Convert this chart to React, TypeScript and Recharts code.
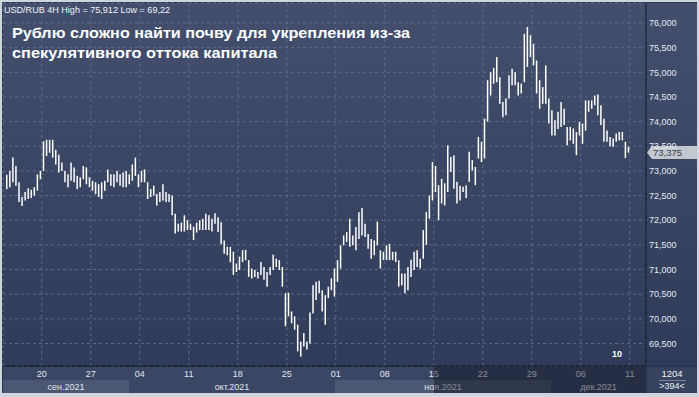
import { ComposedChart, Bar, XAxis, YAxis, CartesianGrid, ReferenceLine } from 'recharts';

// 4H bars, low and high of each bar
const lows = [
  72.63, 72.67, 72.77, 72.7, 72.37, 72.29, 72.4, 72.43, 72.45, 72.5, 72.6, 72.83, 73.0, 73.3, 73.37, 73.27,
  73.13, 72.97, 73.0, 72.77, 72.67, 72.8, 72.77, 72.63, 72.67, 72.83, 72.73, 72.67, 72.6, 72.53, 72.47, 72.43,
  72.6, 72.77, 72.7, 72.67, 72.77, 72.7, 72.67, 72.67, 72.73, 72.8, 72.9, 72.67, 72.77, 72.77, 72.43, 72.47,
  72.5, 72.3, 72.37, 72.4, 72.37, 72.37, 72.1, 71.73, 71.77, 71.77, 71.77, 71.8, 71.8, 71.6, 71.75, 71.8,
  71.8, 71.8, 71.8, 71.77, 71.93, 71.76, 71.52, 71.32, 71.29, 71.15, 70.89, 70.95, 70.99, 71.15, 71.19, 70.85,
  70.82, 70.85, 70.82, 70.89, 70.79, 70.65, 70.89, 70.99, 71.05, 70.99, 70.65, 69.85, 70.05, 69.91, 69.78, 69.34,
  69.23, 69.44, 69.38, 69.5, 70.11, 70.38, 70.52, 70.15, 69.88, 70.42, 70.58, 70.45, 70.75, 71.02, 71.49, 71.56,
  71.46, 71.49, 71.39, 71.62, 71.69, 71.66, 71.42, 71.22, 71.29, 71.49, 71.02, 71.19, 71.19, 71.19, 71.19, 71.15,
  70.65, 70.68, 70.52, 70.58, 70.85, 70.99, 71.05, 71.02, 71.22, 71.5, 72.03, 72.4, 72.57, 72.0, 72.34, 72.3,
  72.57, 72.98, 72.64, 72.34, 72.4, 72.57, 72.45, 72.78, 73.01, 72.71, 73.25, 73.18, 73.25, 74.0, 74.53, 74.77,
  74.8, 74.36, 74.09, 74.13, 74.47, 74.74, 74.74, 74.53, 74.57, 74.8, 75.11, 75.31, 75.14, 74.57, 74.26, 74.36,
  74.36, 73.96, 73.72, 73.72, 73.85, 73.89, 73.93, 73.52, 73.62, 73.55, 73.32, 73.72, 73.55, 73.82, 74.2, 74.26,
  74.33, 74.13, 73.93, 73.59, 73.59, 73.5, 73.49, 73.59, 73.62, 73.62, 73.26, 73.37,
];

const highs = [
  72.92, 73.0, 73.27, 73.1, 72.77, 72.47, 72.57, 72.65, 72.62, 72.67, 72.93, 73.0, 73.6, 73.63, 73.63, 73.63,
  73.43, 73.33, 73.17, 73.0, 72.93, 73.17, 73.07, 72.9, 72.87, 73.1, 73.07, 72.87, 72.8, 72.77, 72.73, 72.77,
  72.8, 73.03, 72.93, 72.93, 73.0, 72.93, 72.97, 73.0, 72.93, 73.13, 73.27, 72.93, 73.0, 73.03, 72.77, 72.63,
  72.7, 72.53, 72.57, 72.73, 72.57, 72.53, 72.5, 72.13, 71.93, 71.95, 72.1, 72.0, 71.93, 71.87, 71.95, 72.0,
  72.03, 72.13, 72.1, 72.03, 72.14, 72.06, 71.96, 71.59, 71.46, 71.46, 71.36, 71.12, 71.26, 71.39, 71.4, 71.19,
  71.02, 70.99, 70.95, 71.15, 71.05, 70.95, 71.05, 71.3, 71.22, 71.19, 71.05, 70.52, 70.53, 70.15, 70.05, 69.88,
  69.54, 69.71, 69.54, 70.13, 70.68, 70.75, 70.77, 70.58, 70.48, 70.65, 70.82, 71.02, 71.19, 71.49, 71.69, 71.76,
  72.03, 71.69, 71.86, 72.16, 72.25, 71.93, 71.72, 71.62, 71.59, 71.97, 71.39, 71.36, 71.49, 71.52, 71.36, 71.36,
  71.19, 70.92, 70.92, 71.05, 71.2, 71.36, 71.39, 71.22, 71.8, 72.17, 72.5, 73.18, 73.1, 72.71, 72.84, 72.75,
  73.52, 73.28, 73.32, 72.78, 72.7, 72.68, 72.71, 73.39, 73.22, 73.08, 73.69, 73.59, 74.06, 74.84, 75.0, 75.09,
  75.31, 74.9, 74.4, 74.47, 74.94, 75.07, 75.0, 74.8, 74.77, 75.78, 75.92, 75.75, 75.58, 75.24, 74.84, 74.7,
  75.14, 74.47, 74.23, 74.03, 74.2, 74.4, 74.26, 73.89, 73.89, 73.86, 73.79, 73.99, 73.96, 74.43, 74.43, 74.43,
  74.53, 74.55, 74.33, 74.06, 73.82, 73.69, 73.66, 73.76, 73.79, 73.79, 73.59, 73.49,
];

// week starts (Mondays), in bar index units, and their labels
const weekTicks = [11.5, 27.5, 43.5, 59.5, 75.5, 91.5, 107.5, 123.5, 139.5, 155.5, 171.5, 187.5, 203.5];
const dayLabels = ['20', '27', '04', '11', '18', '25', '01', '08', '15', '22', '29', '06', '11'];
const monthLabels = ['сен.2021', 'окт.2021', 'ноя.2021', 'дек.2021'];
const priceTicks = [69.5, 70, 70.5, 71, 71.5, 72, 72.5, 73, 73.5, 74, 74.5, 75, 75.5, 76];
const lastPrice = 73.375;

const data = lows.map((low, i) => ({ i, range: [low, highs[i]] }));

const FONT = '"Liberation Sans", Arial, sans-serif';
const fmtPrice = (v: number) => v.toFixed(3).replace('.', ',');

// month bands under the day row (x from, x to), pixels
const bands = [
  [3, 129, '#4b5773'],
  [129, 335, '#3a4663'],
  [335, 551, '#4b5773'],
  [551, 646, '#3a4663'],
];

function PriceTag(props: any) {
  const { viewBox } = props;
  const x = viewBox.x + viewBox.width;
  const y = viewBox.y;
  return (
    <g>
      <polygon
        points={`${x + 1},${y} ${x + 6},${y - 6.5} ${x + 51},${y - 6.5} ${x + 51},${y + 6.5} ${x + 6},${y + 6.5}`}
        fill="#c3c7cf"
      />
      <text x={x + 7} y={y + 3.5} fontSize={9.5} fill="#3a3f4a" fontFamily={FONT}>
        {fmtPrice(lastPrice)}
      </text>
    </g>
  );
}

export default function App() {
  return (
    <div style={{ position: 'absolute', left: 0, top: 0, width: 699, height: 397, overflow: 'hidden', background: '#cfd5de' }}>
      {/* backgrounds */}
      <svg width={699} height={397} style={{ position: 'absolute', left: 0, top: 0 }}>
        <defs>
          <linearGradient id="panel" x1="0" y1="0" x2="0" y2="1">
            <stop offset="0%" stopColor="#434f6d" />
            <stop offset="100%" stopColor="#2f3b59" />
          </linearGradient>
        </defs>
        <rect x={2} y={2} width={695} height={391} fill="#2a3450" />
        <rect x={3} y={3} width={694} height={363} fill="url(#panel)" />
        <rect x={3} y={367} width={643} height={26} fill="#3a4663" />
        {bands.map(([a, b, c], k) => (
          <rect key={k} x={a as number} y={380} width={(b as number) - (a as number)} height={13} fill={c as string} />
        ))}
        {monthLabels.map((m, k) => (
          <text
            key={m}
            x={((bands[k][0] as number) + (bands[k][1] as number)) / 2}
            y={389.5}
            textAnchor="middle"
            fontSize={9}
            fill="#e2e6ee"
            fontFamily={FONT}
          >
            {m}
          </text>
        ))}
        <rect x={647} y={367} width={50} height={26} fill="#37425e" />
      </svg>

      <div style={{ position: 'absolute', left: 0, top: 0 }}>
        <ComposedChart width={699} height={397} data={data} margin={{ top: 3, left: 3, right: 2, bottom: 5 }}>
          <CartesianGrid stroke="#5d6b8b" strokeDasharray="3 3" />
          <XAxis
            type="number"
            dataKey="i"
            domain={[-1.153, 208.8]}
            ticks={weekTicks}
            tickFormatter={(_v: number, idx: number) => dayLabels[idx]}
            interval={0}
            height={26}
            tickLine={false}
            tickSize={3}
            tickMargin={2}
            axisLine={{ stroke: '#0e121b' }}
            tick={{ fill: '#e2e6ee', fontSize: 9, fontFamily: FONT }}
            allowDataOverflow
          />
          <YAxis
            orientation="right"
            width={51}
            domain={[69.043, 76.406]}
            ticks={priceTicks}
            tickFormatter={fmtPrice}
            interval={0}
            tickLine={false}
            tickSize={1}
            tickMargin={2}
            axisLine={{ stroke: '#0e121b' }}
            tick={{ fill: '#e6e9ef', fontSize: 9, fontFamily: FONT }}
            allowDataOverflow
          />
          <Bar dataKey="range" fill="#ffffff" barSize={1.5} isAnimationActive={false} />
          <ReferenceLine y={lastPrice} stroke="none" ifOverflow="visible" label={PriceTag} />
        </ComposedChart>
      </div>

      {/* overlays */}
      <svg width={699} height={397} style={{ position: 'absolute', left: 0, top: 0, pointerEvents: 'none' }}>
        <rect x={434} y={367} width={212} height={26} fill="rgba(14,18,32,0.45)" />
        <text x={4} y={13} fontSize={9} fill="#f2f4f8" fontFamily={FONT} textLength={166} lengthAdjust="spacingAndGlyphs">
          USD/RUB 4H High = 75,912 Low = 69,22
        </text>
        <text x={12} y={38} fontSize={14} fontWeight="bold" fill="#ffffff" fontFamily={FONT} textLength={398} lengthAdjust="spacingAndGlyphs">
          Рублю сложно найти почву для укрепления из-за
        </text>
        <text x={12} y={57.5} fontSize={14} fontWeight="bold" fill="#ffffff" fontFamily={FONT} textLength={265} lengthAdjust="spacingAndGlyphs">
          спекулятивного оттока капитала
        </text>
        <text x={617} y={357} textAnchor="middle" fontSize={9} fontWeight="bold" fill="#ffffff" fontFamily={FONT}>
          10
        </text>
        <text x={672} y={377} textAnchor="middle" fontSize={9.5} fill="#eef0f4" fontFamily={FONT}>
          1204
        </text>
        <line x1={659} x2={686} y1={380.5} y2={380.5} stroke="#7a869e" />
        <text x={672} y={389} textAnchor="middle" fontSize={9} fill="#eef0f4" fontFamily={FONT}>
          &gt;394&lt;
        </text>
      </svg>
    </div>
  );
}
